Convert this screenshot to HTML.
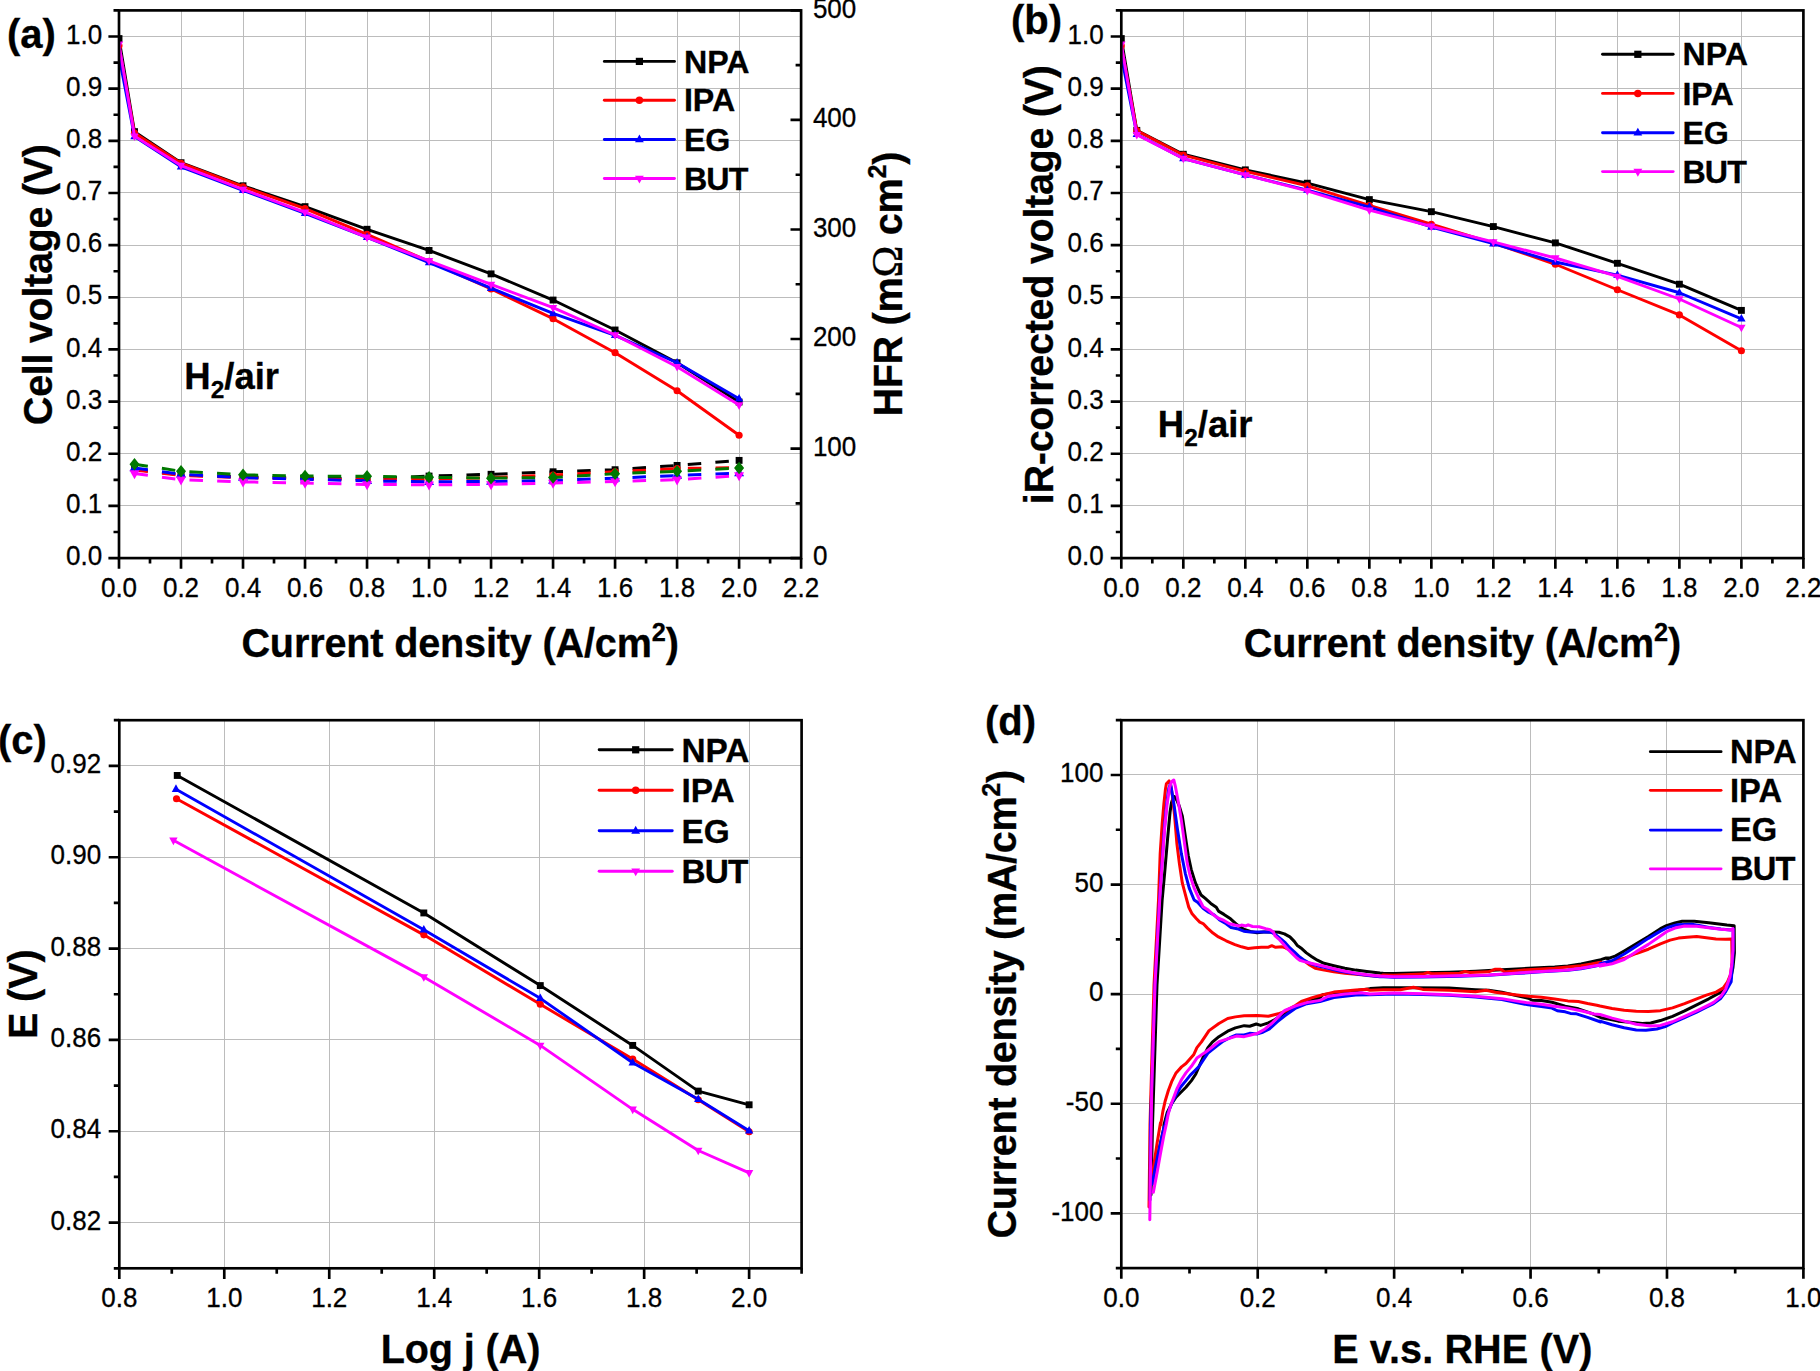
<!DOCTYPE html>
<html lang="en">
<head>
<meta charset="utf-8">
<title>Polarization curves, HFR, Tafel plots and cyclic voltammograms</title>
<style>
html,body{margin:0;padding:0;background:#fff;}
svg{display:block;}
text{font-family:"Liberation Sans", sans-serif;fill:#000;stroke:#000;stroke-width:0.3px;}
</style>
</head>
<body>
<svg width="1820" height="1371" viewBox="0 0 1820 1371">
<rect width="1820" height="1371" fill="#fff"/>
<path d="M181.5 10.4V558.1M243.5 10.4V558.1M305.5 10.4V558.1M367.5 10.4V558.1M429.5 10.4V558.1M491.5 10.4V558.1M553.5 10.4V558.1M615.5 10.4V558.1M677.5 10.4V558.1M739.5 10.4V558.1M119 505.5H801.1M119 453.5H801.1M119 401.5H801.1M119 349.5H801.1M119 297.5H801.1M119 245.5H801.1M119 192.5H801.1M119 140.5H801.1M119 88.5H801.1M119 36.5H801.1" stroke="#bcbcbc" stroke-width="1" fill="none"/>
<clipPath id="cp1"><rect x="119" y="10.4" width="682.1" height="547.7"/></clipPath><g clip-path="url(#cp1)">
<path d="M134.5 469.37L181.01 474.85L243.02 477.04L305.03 478.14L367.04 478.9L429.05 476.05L491.05 474.3L553.06 471.78L615.07 469.7L677.08 465.43L739.09 460.39" stroke="#000" stroke-width="3.0" fill="none" stroke-linejoin="round" stroke-dasharray="13.5 14.2"/>
<rect x="131.06" y="465.93" width="6.89" height="6.89" fill="#000"/><rect x="177.57" y="471.41" width="6.89" height="6.89" fill="#000"/><rect x="239.57" y="473.6" width="6.89" height="6.89" fill="#000"/><rect x="301.58" y="474.69" width="6.89" height="6.89" fill="#000"/><rect x="363.59" y="475.46" width="6.89" height="6.89" fill="#000"/><rect x="425.6" y="472.61" width="6.89" height="6.89" fill="#000"/><rect x="487.61" y="470.86" width="6.89" height="6.89" fill="#000"/><rect x="549.62" y="468.34" width="6.89" height="6.89" fill="#000"/><rect x="611.63" y="466.26" width="6.89" height="6.89" fill="#000"/><rect x="673.64" y="461.99" width="6.89" height="6.89" fill="#000"/><rect x="735.65" y="456.95" width="6.89" height="6.89" fill="#000"/>
<path d="M134.5 469.92L181.01 475.4L243.02 477.59L305.03 478.9L367.04 479.78L429.05 479.23L491.05 477.59L553.06 474.96L615.07 471.78L677.08 468.5L739.09 467.73" stroke="#ff0000" stroke-width="3.0" fill="none" stroke-linejoin="round" stroke-dasharray="13.5 14.2"/>
<circle cx="134.5" cy="469.92" r="3.57" fill="#ff0000"/><circle cx="181.01" cy="475.4" r="3.57" fill="#ff0000"/><circle cx="243.02" cy="477.59" r="3.57" fill="#ff0000"/><circle cx="305.03" cy="478.9" r="3.57" fill="#ff0000"/><circle cx="367.04" cy="479.78" r="3.57" fill="#ff0000"/><circle cx="429.05" cy="479.23" r="3.57" fill="#ff0000"/><circle cx="491.05" cy="477.59" r="3.57" fill="#ff0000"/><circle cx="553.06" cy="474.96" r="3.57" fill="#ff0000"/><circle cx="615.07" cy="471.78" r="3.57" fill="#ff0000"/><circle cx="677.08" cy="468.5" r="3.57" fill="#ff0000"/><circle cx="739.09" cy="467.73" r="3.57" fill="#ff0000"/>
<path d="M134.5 467.95L181.01 474.3L243.02 477.59L305.03 479.23L367.04 480.87L429.05 481.86L491.05 481.42L553.06 480.55L615.07 478.14L677.08 475.51L739.09 472.99" stroke="#0000ff" stroke-width="3.0" fill="none" stroke-linejoin="round" stroke-dasharray="13.5 14.2"/>
<path d="M134.5 462.2L139.5 471.2L129.5 471.2Z" fill="#0000ff"/><path d="M181.01 468.55L186.01 477.55L176.01 477.55Z" fill="#0000ff"/><path d="M243.02 471.84L248.02 480.84L238.02 480.84Z" fill="#0000ff"/><path d="M305.03 473.48L310.03 482.48L300.03 482.48Z" fill="#0000ff"/><path d="M367.04 475.12L372.04 484.12L362.04 484.12Z" fill="#0000ff"/><path d="M429.05 476.11L434.05 485.11L424.05 485.11Z" fill="#0000ff"/><path d="M491.05 475.67L496.05 484.67L486.05 484.67Z" fill="#0000ff"/><path d="M553.06 474.8L558.06 483.8L548.06 483.8Z" fill="#0000ff"/><path d="M615.07 472.39L620.07 481.39L610.07 481.39Z" fill="#0000ff"/><path d="M677.08 469.76L682.08 478.76L672.08 478.76Z" fill="#0000ff"/><path d="M739.09 467.24L744.09 476.24L734.09 476.24Z" fill="#0000ff"/>
<path d="M134.5 473.54L181.01 479.78L243.02 481.86L305.03 483.07L367.04 484.38L429.05 484.82L491.05 484.38L553.06 483.07L615.07 481.42L677.08 479.78L739.09 475.51" stroke="#ff00ff" stroke-width="3.0" fill="none" stroke-linejoin="round" stroke-dasharray="13.5 14.2"/>
<path d="M134.5 479.29L139.5 470.29L129.5 470.29Z" fill="#ff00ff"/><path d="M181.01 485.53L186.01 476.53L176.01 476.53Z" fill="#ff00ff"/><path d="M243.02 487.61L248.02 478.61L238.02 478.61Z" fill="#ff00ff"/><path d="M305.03 488.82L310.03 479.82L300.03 479.82Z" fill="#ff00ff"/><path d="M367.04 490.13L372.04 481.13L362.04 481.13Z" fill="#ff00ff"/><path d="M429.05 490.57L434.05 481.57L424.05 481.57Z" fill="#ff00ff"/><path d="M491.05 490.13L496.05 481.13L486.05 481.13Z" fill="#ff00ff"/><path d="M553.06 488.82L558.06 479.82L548.06 479.82Z" fill="#ff00ff"/><path d="M615.07 487.17L620.07 478.17L610.07 478.17Z" fill="#ff00ff"/><path d="M677.08 485.53L682.08 476.53L672.08 476.53Z" fill="#ff00ff"/><path d="M739.09 481.26L744.09 472.26L734.09 472.26Z" fill="#ff00ff"/>
<path d="M134.5 464.22L181.01 471.23L243.02 474.85L305.03 476.05L367.04 476.27L429.05 477.26L491.05 478.14L553.06 477.48L615.07 473.75L677.08 471.23L739.09 467.95" stroke="#007800" stroke-width="3.0" fill="none" stroke-linejoin="round" stroke-dasharray="13.5 14.2"/>
<path d="M134.5 457.97L139.5 464.22L134.5 470.47L129.5 464.22Z" fill="#007800"/><path d="M181.01 464.98L186.01 471.23L181.01 477.48L176.01 471.23Z" fill="#007800"/><path d="M243.02 468.6L248.02 474.85L243.02 481.1L238.02 474.85Z" fill="#007800"/><path d="M305.03 469.8L310.03 476.05L305.03 482.3L300.03 476.05Z" fill="#007800"/><path d="M367.04 470.02L372.04 476.27L367.04 482.52L362.04 476.27Z" fill="#007800"/><path d="M429.05 471.01L434.05 477.26L429.05 483.51L424.05 477.26Z" fill="#007800"/><path d="M491.05 471.89L496.05 478.14L491.05 484.39L486.05 478.14Z" fill="#007800"/><path d="M553.06 471.23L558.06 477.48L553.06 483.73L548.06 477.48Z" fill="#007800"/><path d="M615.07 467.5L620.07 473.75L615.07 480L610.07 473.75Z" fill="#007800"/><path d="M677.08 464.98L682.08 471.23L677.08 477.48L672.08 471.23Z" fill="#007800"/><path d="M739.09 461.7L744.09 467.95L739.09 474.2L734.09 467.95Z" fill="#007800"/>
<path d="M119 38.57L134.5 131.62L181.01 162.71L243.02 185.77L305.03 206.63L367.04 229.27L429.05 250.45L491.05 273.87L553.06 300.06L615.07 330L677.08 362.75L739.09 402.03" stroke="#000" stroke-width="2.9" fill="none" stroke-linejoin="round" stroke-linecap="round"/>
<rect x="115.56" y="35.12" width="6.89" height="6.89" fill="#000"/><rect x="131.06" y="128.18" width="6.89" height="6.89" fill="#000"/><rect x="177.57" y="159.27" width="6.89" height="6.89" fill="#000"/><rect x="239.57" y="182.32" width="6.89" height="6.89" fill="#000"/><rect x="301.58" y="203.19" width="6.89" height="6.89" fill="#000"/><rect x="363.59" y="225.83" width="6.89" height="6.89" fill="#000"/><rect x="425.6" y="247.01" width="6.89" height="6.89" fill="#000"/><rect x="487.61" y="270.43" width="6.89" height="6.89" fill="#000"/><rect x="549.62" y="296.61" width="6.89" height="6.89" fill="#000"/><rect x="611.63" y="326.55" width="6.89" height="6.89" fill="#000"/><rect x="673.64" y="359.31" width="6.89" height="6.89" fill="#000"/><rect x="735.65" y="398.59" width="6.89" height="6.89" fill="#000"/>
<path d="M119 45.87L134.5 132.98L181.01 163.23L243.02 186.71L305.03 208.62L367.04 234.33L429.05 261.3L491.05 288.94L553.06 318.68L615.07 352.69L677.08 390.71L739.09 435.26" stroke="#ff0000" stroke-width="2.9" fill="none" stroke-linejoin="round" stroke-linecap="round"/>
<circle cx="119" cy="45.87" r="3.57" fill="#ff0000"/><circle cx="134.5" cy="132.98" r="3.57" fill="#ff0000"/><circle cx="181.01" cy="163.23" r="3.57" fill="#ff0000"/><circle cx="243.02" cy="186.71" r="3.57" fill="#ff0000"/><circle cx="305.03" cy="208.62" r="3.57" fill="#ff0000"/><circle cx="367.04" cy="234.33" r="3.57" fill="#ff0000"/><circle cx="429.05" cy="261.3" r="3.57" fill="#ff0000"/><circle cx="491.05" cy="288.94" r="3.57" fill="#ff0000"/><circle cx="553.06" cy="318.68" r="3.57" fill="#ff0000"/><circle cx="615.07" cy="352.69" r="3.57" fill="#ff0000"/><circle cx="677.08" cy="390.71" r="3.57" fill="#ff0000"/><circle cx="739.09" cy="435.26" r="3.57" fill="#ff0000"/>
<path d="M119 56.3L134.5 136.63L181.01 166.89L243.02 190.36L305.03 213.31L367.04 237.3L429.05 262.55L491.05 288.21L553.06 313.46L615.07 335.37L677.08 362.75L739.09 398.75" stroke="#0000ff" stroke-width="2.9" fill="none" stroke-linejoin="round" stroke-linecap="round"/>
<path d="M119 51.47L123.2 59.03L114.8 59.03Z" fill="#0000ff"/><path d="M134.5 131.8L138.7 139.36L130.3 139.36Z" fill="#0000ff"/><path d="M181.01 162.06L185.21 169.62L176.81 169.62Z" fill="#0000ff"/><path d="M243.02 185.53L247.22 193.09L238.82 193.09Z" fill="#0000ff"/><path d="M305.03 208.48L309.23 216.04L300.83 216.04Z" fill="#0000ff"/><path d="M367.04 232.47L371.24 240.03L362.84 240.03Z" fill="#0000ff"/><path d="M429.05 257.72L433.25 265.28L424.85 265.28Z" fill="#0000ff"/><path d="M491.05 283.38L495.25 290.94L486.85 290.94Z" fill="#0000ff"/><path d="M553.06 308.63L557.26 316.19L548.86 316.19Z" fill="#0000ff"/><path d="M615.07 330.54L619.27 338.1L610.87 338.1Z" fill="#0000ff"/><path d="M677.08 357.92L681.28 365.48L672.88 365.48Z" fill="#0000ff"/><path d="M739.09 393.92L743.29 401.48L734.89 401.48Z" fill="#0000ff"/>
<path d="M119 44.31L134.5 136.11L181.01 165.58L243.02 189.52L305.03 212.27L367.04 237.3L429.05 260.78L491.05 284.46L553.06 307.62L615.07 335L677.08 366.77L739.09 405.06" stroke="#ff00ff" stroke-width="2.9" fill="none" stroke-linejoin="round" stroke-linecap="round"/>
<path d="M119 49.14L123.2 41.58L114.8 41.58Z" fill="#ff00ff"/><path d="M134.5 140.94L138.7 133.38L130.3 133.38Z" fill="#ff00ff"/><path d="M181.01 170.41L185.21 162.85L176.81 162.85Z" fill="#ff00ff"/><path d="M243.02 194.35L247.22 186.79L238.82 186.79Z" fill="#ff00ff"/><path d="M305.03 217.1L309.23 209.54L300.83 209.54Z" fill="#ff00ff"/><path d="M367.04 242.13L371.24 234.57L362.84 234.57Z" fill="#ff00ff"/><path d="M429.05 265.61L433.25 258.05L424.85 258.05Z" fill="#ff00ff"/><path d="M491.05 289.29L495.25 281.73L486.85 281.73Z" fill="#ff00ff"/><path d="M553.06 312.45L557.26 304.89L548.86 304.89Z" fill="#ff00ff"/><path d="M615.07 339.83L619.27 332.27L610.87 332.27Z" fill="#ff00ff"/><path d="M677.08 371.6L681.28 364.04L672.88 364.04Z" fill="#ff00ff"/><path d="M739.09 409.89L743.29 402.33L734.89 402.33Z" fill="#ff00ff"/>
</g>
<rect x="119" y="10.4" width="682.1" height="547.7" fill="none" stroke="#000" stroke-width="2.67"/>
<path d="M119 558.1h-10.6M119 505.94h-10.6M119 453.78h-10.6M119 401.61h-10.6M119 349.45h-10.6M119 297.29h-10.6M119 245.13h-10.6M119 192.97h-10.6M119 140.8h-10.6M119 88.64h-10.6M119 36.48h-10.6M119 532.02h-5.5M119 479.86h-5.5M119 427.7h-5.5M119 375.53h-5.5M119 323.37h-5.5M119 271.21h-5.5M119 219.05h-5.5M119 166.89h-5.5M119 114.72h-5.5M119 62.56h-5.5M119 10.4h-5.5" stroke="#000" stroke-width="2.67" fill="none"/>
<path d="M119 558.1v10.6M181.01 558.1v10.6M243.02 558.1v10.6M305.03 558.1v10.6M367.04 558.1v10.6M429.05 558.1v10.6M491.05 558.1v10.6M553.06 558.1v10.6M615.07 558.1v10.6M677.08 558.1v10.6M739.09 558.1v10.6M801.1 558.1v10.6M150 558.1v5.5M212.01 558.1v5.5M274.02 558.1v5.5M336.03 558.1v5.5M398.04 558.1v5.5M460.05 558.1v5.5M522.06 558.1v5.5M584.07 558.1v5.5M646.08 558.1v5.5M708.09 558.1v5.5M770.1 558.1v5.5" stroke="#000" stroke-width="2.67" fill="none"/>
<text transform="translate(102.2 565.3) scale(1 1.03)" font-size="26.0" text-anchor="end">0.0</text>
<text transform="translate(102.2 513.14) scale(1 1.03)" font-size="26.0" text-anchor="end">0.1</text>
<text transform="translate(102.2 460.98) scale(1 1.03)" font-size="26.0" text-anchor="end">0.2</text>
<text transform="translate(102.2 408.81) scale(1 1.03)" font-size="26.0" text-anchor="end">0.3</text>
<text transform="translate(102.2 356.65) scale(1 1.03)" font-size="26.0" text-anchor="end">0.4</text>
<text transform="translate(102.2 304.49) scale(1 1.03)" font-size="26.0" text-anchor="end">0.5</text>
<text transform="translate(102.2 252.33) scale(1 1.03)" font-size="26.0" text-anchor="end">0.6</text>
<text transform="translate(102.2 200.17) scale(1 1.03)" font-size="26.0" text-anchor="end">0.7</text>
<text transform="translate(102.2 148) scale(1 1.03)" font-size="26.0" text-anchor="end">0.8</text>
<text transform="translate(102.2 95.84) scale(1 1.03)" font-size="26.0" text-anchor="end">0.9</text>
<text transform="translate(102.2 43.68) scale(1 1.03)" font-size="26.0" text-anchor="end">1.0</text>
<text transform="translate(119 596.6) scale(1 1.03)" font-size="26.0" text-anchor="middle">0.0</text>
<text transform="translate(181.01 596.6) scale(1 1.03)" font-size="26.0" text-anchor="middle">0.2</text>
<text transform="translate(243.02 596.6) scale(1 1.03)" font-size="26.0" text-anchor="middle">0.4</text>
<text transform="translate(305.03 596.6) scale(1 1.03)" font-size="26.0" text-anchor="middle">0.6</text>
<text transform="translate(367.04 596.6) scale(1 1.03)" font-size="26.0" text-anchor="middle">0.8</text>
<text transform="translate(429.05 596.6) scale(1 1.03)" font-size="26.0" text-anchor="middle">1.0</text>
<text transform="translate(491.05 596.6) scale(1 1.03)" font-size="26.0" text-anchor="middle">1.2</text>
<text transform="translate(553.06 596.6) scale(1 1.03)" font-size="26.0" text-anchor="middle">1.4</text>
<text transform="translate(615.07 596.6) scale(1 1.03)" font-size="26.0" text-anchor="middle">1.6</text>
<text transform="translate(677.08 596.6) scale(1 1.03)" font-size="26.0" text-anchor="middle">1.8</text>
<text transform="translate(739.09 596.6) scale(1 1.03)" font-size="26.0" text-anchor="middle">2.0</text>
<text transform="translate(801.1 596.6) scale(1 1.03)" font-size="26.0" text-anchor="middle">2.2</text>
<text transform="translate(460.05 657.2) scale(1 1.045)" font-size="39.6" text-anchor="middle" font-weight="bold" letter-spacing="-0.16">Current density (A/cm<tspan font-size="25.34" dy="-15.84">2</tspan><tspan dy="15.84">)</tspan></text>
<text transform="translate(51.6 284.75) rotate(-90) scale(1 1.045)" font-size="39.6" text-anchor="middle" font-weight="bold" letter-spacing="-0.33">Cell voltage (V)</text>
<text transform="translate(7 47.8)" font-size="40" text-anchor="start" font-weight="bold">(a)</text>
<text transform="translate(184.3 389.1)" font-size="36.5" text-anchor="start" font-weight="bold">H<tspan font-size="24.46" dy="9.12">2</tspan><tspan dy="-9.12">/air</tspan></text>
<path d="M604.35 61.4H674.45" stroke="#000" stroke-width="2.9" stroke-linecap="round"/>
<rect x="635.79" y="57.79" width="7.22" height="7.22" fill="#000"/>
<text transform="translate(683.9 72.5)" font-size="32.2" text-anchor="start" font-weight="bold">NPA</text>
<path d="M604.35 100.3H674.45" stroke="#ff0000" stroke-width="2.9" stroke-linecap="round"/>
<circle cx="639.4" cy="100.3" r="3.74" fill="#ff0000"/>
<text transform="translate(683.9 111.4)" font-size="32.2" text-anchor="start" font-weight="bold">IPA</text>
<path d="M604.35 139.5H674.45" stroke="#0000ff" stroke-width="2.9" stroke-linecap="round"/>
<path d="M639.4 134.44L643.8 142.36L635 142.36Z" fill="#0000ff"/>
<text transform="translate(683.9 150.6)" font-size="32.2" text-anchor="start" font-weight="bold">EG</text>
<path d="M604.35 178.5H674.45" stroke="#ff00ff" stroke-width="2.9" stroke-linecap="round"/>
<path d="M639.4 183.56L643.8 175.64L635 175.64Z" fill="#ff00ff"/>
<text transform="translate(683.9 189.6)" font-size="32.2" text-anchor="start" font-weight="bold" letter-spacing="-0.8">BUT</text>
<path d="M801.1 558.1h-10.6M801.1 448.56h-10.6M801.1 339.02h-10.6M801.1 229.48h-10.6M801.1 119.94h-10.6M801.1 10.4h-10.6M801.1 503.33h-5.5M801.1 393.79h-5.5M801.1 284.25h-5.5M801.1 174.71h-5.5M801.1 65.17h-5.5" stroke="#000" stroke-width="2.67" fill="none"/>
<text transform="translate(812.9 565.3) scale(1 1.03)" font-size="26.0" text-anchor="start">0</text>
<text transform="translate(812.9 455.76) scale(1 1.03)" font-size="26.0" text-anchor="start">100</text>
<text transform="translate(812.9 346.22) scale(1 1.03)" font-size="26.0" text-anchor="start">200</text>
<text transform="translate(812.9 236.68) scale(1 1.03)" font-size="26.0" text-anchor="start">300</text>
<text transform="translate(812.9 127.14) scale(1 1.03)" font-size="26.0" text-anchor="start">400</text>
<text transform="translate(812.9 17.6) scale(1 1.03)" font-size="26.0" text-anchor="start">500</text>
<text transform="translate(902.4 284.25) rotate(-90) scale(1 1.045)" font-size="39.6" text-anchor="middle" font-weight="bold" letter-spacing="-0.3">HFR (m<tspan font-weight="normal" font-size="43" font-family="&quot;Liberation Serif&quot;, serif">&#937;</tspan> cm<tspan font-size="25.34" dy="-15.84">2</tspan><tspan dy="15.84">)</tspan></text>
<path d="M1183.5 10.4V558.1M1245.5 10.4V558.1M1307.5 10.4V558.1M1369.5 10.4V558.1M1431.5 10.4V558.1M1493.5 10.4V558.1M1555.5 10.4V558.1M1617.5 10.4V558.1M1679.5 10.4V558.1M1741.5 10.4V558.1M1121.3 505.5H1803.4M1121.3 453.5H1803.4M1121.3 401.5H1803.4M1121.3 349.5H1803.4M1121.3 297.5H1803.4M1121.3 245.5H1803.4M1121.3 192.5H1803.4M1121.3 140.5H1803.4M1121.3 88.5H1803.4M1121.3 36.5H1803.4" stroke="#bcbcbc" stroke-width="1" fill="none"/>
<clipPath id="cp2"><rect x="1121.3" y="10.4" width="682.1" height="547.7"/></clipPath><g clip-path="url(#cp2)">
<path d="M1121.3 38.57L1136.8 130.37L1183.31 154.26L1245.32 169.86L1307.33 183.21L1369.34 199.59L1431.35 211.69L1493.35 226.56L1555.36 242.89L1617.37 263.28L1679.38 284.2L1741.39 310.38" stroke="#000" stroke-width="2.9" fill="none" stroke-linejoin="round" stroke-linecap="round"/>
<rect x="1117.86" y="35.12" width="6.89" height="6.89" fill="#000"/><rect x="1133.36" y="126.93" width="6.89" height="6.89" fill="#000"/><rect x="1179.87" y="150.82" width="6.89" height="6.89" fill="#000"/><rect x="1241.87" y="166.41" width="6.89" height="6.89" fill="#000"/><rect x="1303.88" y="179.77" width="6.89" height="6.89" fill="#000"/><rect x="1365.89" y="196.15" width="6.89" height="6.89" fill="#000"/><rect x="1427.9" y="208.25" width="6.89" height="6.89" fill="#000"/><rect x="1489.91" y="223.11" width="6.89" height="6.89" fill="#000"/><rect x="1551.92" y="239.44" width="6.89" height="6.89" fill="#000"/><rect x="1613.93" y="259.84" width="6.89" height="6.89" fill="#000"/><rect x="1675.94" y="280.75" width="6.89" height="6.89" fill="#000"/><rect x="1737.95" y="306.94" width="6.89" height="6.89" fill="#000"/>
<path d="M1121.3 45.87L1136.8 130.63L1183.31 155.04L1245.32 171.42L1307.33 185.77L1369.34 205.49L1431.35 224.26L1493.35 243.04L1555.36 264.27L1617.37 289.73L1679.38 314.92L1741.39 350.76" stroke="#ff0000" stroke-width="2.9" fill="none" stroke-linejoin="round" stroke-linecap="round"/>
<circle cx="1121.3" cy="45.87" r="3.57" fill="#ff0000"/><circle cx="1136.8" cy="130.63" r="3.57" fill="#ff0000"/><circle cx="1183.31" cy="155.04" r="3.57" fill="#ff0000"/><circle cx="1245.32" cy="171.42" r="3.57" fill="#ff0000"/><circle cx="1307.33" cy="185.77" r="3.57" fill="#ff0000"/><circle cx="1369.34" cy="205.49" r="3.57" fill="#ff0000"/><circle cx="1431.35" cy="224.26" r="3.57" fill="#ff0000"/><circle cx="1493.35" cy="243.04" r="3.57" fill="#ff0000"/><circle cx="1555.36" cy="264.27" r="3.57" fill="#ff0000"/><circle cx="1617.37" cy="289.73" r="3.57" fill="#ff0000"/><circle cx="1679.38" cy="314.92" r="3.57" fill="#ff0000"/><circle cx="1741.39" cy="350.76" r="3.57" fill="#ff0000"/>
<path d="M1121.3 56.3L1136.8 134.18L1183.31 158.54L1245.32 174.92L1307.33 190.05L1369.34 207.05L1431.35 226.98L1493.35 243.67L1555.36 262.03L1617.37 275.12L1679.38 292.75L1741.39 318.89" stroke="#0000ff" stroke-width="2.9" fill="none" stroke-linejoin="round" stroke-linecap="round"/>
<path d="M1121.3 51.47L1125.5 59.03L1117.1 59.03Z" fill="#0000ff"/><path d="M1136.8 129.35L1141 136.91L1132.6 136.91Z" fill="#0000ff"/><path d="M1183.31 153.71L1187.51 161.27L1179.11 161.27Z" fill="#0000ff"/><path d="M1245.32 170.09L1249.52 177.65L1241.12 177.65Z" fill="#0000ff"/><path d="M1307.33 185.22L1311.53 192.78L1303.13 192.78Z" fill="#0000ff"/><path d="M1369.34 202.22L1373.54 209.78L1365.14 209.78Z" fill="#0000ff"/><path d="M1431.35 222.15L1435.55 229.71L1427.15 229.71Z" fill="#0000ff"/><path d="M1493.35 238.84L1497.55 246.4L1489.15 246.4Z" fill="#0000ff"/><path d="M1555.36 257.2L1559.56 264.76L1551.16 264.76Z" fill="#0000ff"/><path d="M1617.37 270.29L1621.57 277.85L1613.17 277.85Z" fill="#0000ff"/><path d="M1679.38 287.92L1683.58 295.48L1675.18 295.48Z" fill="#0000ff"/><path d="M1741.39 314.06L1745.59 321.62L1737.19 321.62Z" fill="#0000ff"/>
<path d="M1121.3 44.31L1136.8 134.65L1183.31 158.54L1245.32 174.92L1307.33 190.78L1369.34 210.18L1431.35 226.35L1493.35 241.89L1555.36 258.01L1617.37 276.37L1679.38 299.01L1741.39 327.54" stroke="#ff00ff" stroke-width="2.9" fill="none" stroke-linejoin="round" stroke-linecap="round"/>
<path d="M1121.3 49.14L1125.5 41.58L1117.1 41.58Z" fill="#ff00ff"/><path d="M1136.8 139.48L1141 131.92L1132.6 131.92Z" fill="#ff00ff"/><path d="M1183.31 163.37L1187.51 155.81L1179.11 155.81Z" fill="#ff00ff"/><path d="M1245.32 179.75L1249.52 172.19L1241.12 172.19Z" fill="#ff00ff"/><path d="M1307.33 195.61L1311.53 188.05L1303.13 188.05Z" fill="#ff00ff"/><path d="M1369.34 215.01L1373.54 207.45L1365.14 207.45Z" fill="#ff00ff"/><path d="M1431.35 231.18L1435.55 223.62L1427.15 223.62Z" fill="#ff00ff"/><path d="M1493.35 246.72L1497.55 239.16L1489.15 239.16Z" fill="#ff00ff"/><path d="M1555.36 262.84L1559.56 255.28L1551.16 255.28Z" fill="#ff00ff"/><path d="M1617.37 281.2L1621.57 273.64L1613.17 273.64Z" fill="#ff00ff"/><path d="M1679.38 303.84L1683.58 296.28L1675.18 296.28Z" fill="#ff00ff"/><path d="M1741.39 332.37L1745.59 324.81L1737.19 324.81Z" fill="#ff00ff"/>
</g>
<rect x="1121.3" y="10.4" width="682.1" height="547.7" fill="none" stroke="#000" stroke-width="2.67"/>
<path d="M1121.3 558.1h-10.6M1121.3 505.94h-10.6M1121.3 453.78h-10.6M1121.3 401.61h-10.6M1121.3 349.45h-10.6M1121.3 297.29h-10.6M1121.3 245.13h-10.6M1121.3 192.97h-10.6M1121.3 140.8h-10.6M1121.3 88.64h-10.6M1121.3 36.48h-10.6M1121.3 532.02h-5.5M1121.3 479.86h-5.5M1121.3 427.7h-5.5M1121.3 375.53h-5.5M1121.3 323.37h-5.5M1121.3 271.21h-5.5M1121.3 219.05h-5.5M1121.3 166.89h-5.5M1121.3 114.72h-5.5M1121.3 62.56h-5.5M1121.3 10.4h-5.5" stroke="#000" stroke-width="2.67" fill="none"/>
<path d="M1121.3 558.1v10.6M1183.31 558.1v10.6M1245.32 558.1v10.6M1307.33 558.1v10.6M1369.34 558.1v10.6M1431.35 558.1v10.6M1493.35 558.1v10.6M1555.36 558.1v10.6M1617.37 558.1v10.6M1679.38 558.1v10.6M1741.39 558.1v10.6M1803.4 558.1v10.6M1152.3 558.1v5.5M1214.31 558.1v5.5M1276.32 558.1v5.5M1338.33 558.1v5.5M1400.34 558.1v5.5M1462.35 558.1v5.5M1524.36 558.1v5.5M1586.37 558.1v5.5M1648.38 558.1v5.5M1710.39 558.1v5.5M1772.4 558.1v5.5" stroke="#000" stroke-width="2.67" fill="none"/>
<text transform="translate(1103.7 565.3) scale(1 1.03)" font-size="26.0" text-anchor="end">0.0</text>
<text transform="translate(1103.7 513.14) scale(1 1.03)" font-size="26.0" text-anchor="end">0.1</text>
<text transform="translate(1103.7 460.98) scale(1 1.03)" font-size="26.0" text-anchor="end">0.2</text>
<text transform="translate(1103.7 408.81) scale(1 1.03)" font-size="26.0" text-anchor="end">0.3</text>
<text transform="translate(1103.7 356.65) scale(1 1.03)" font-size="26.0" text-anchor="end">0.4</text>
<text transform="translate(1103.7 304.49) scale(1 1.03)" font-size="26.0" text-anchor="end">0.5</text>
<text transform="translate(1103.7 252.33) scale(1 1.03)" font-size="26.0" text-anchor="end">0.6</text>
<text transform="translate(1103.7 200.17) scale(1 1.03)" font-size="26.0" text-anchor="end">0.7</text>
<text transform="translate(1103.7 148) scale(1 1.03)" font-size="26.0" text-anchor="end">0.8</text>
<text transform="translate(1103.7 95.84) scale(1 1.03)" font-size="26.0" text-anchor="end">0.9</text>
<text transform="translate(1103.7 43.68) scale(1 1.03)" font-size="26.0" text-anchor="end">1.0</text>
<text transform="translate(1121.3 596.6) scale(1 1.03)" font-size="26.0" text-anchor="middle">0.0</text>
<text transform="translate(1183.31 596.6) scale(1 1.03)" font-size="26.0" text-anchor="middle">0.2</text>
<text transform="translate(1245.32 596.6) scale(1 1.03)" font-size="26.0" text-anchor="middle">0.4</text>
<text transform="translate(1307.33 596.6) scale(1 1.03)" font-size="26.0" text-anchor="middle">0.6</text>
<text transform="translate(1369.34 596.6) scale(1 1.03)" font-size="26.0" text-anchor="middle">0.8</text>
<text transform="translate(1431.35 596.6) scale(1 1.03)" font-size="26.0" text-anchor="middle">1.0</text>
<text transform="translate(1493.35 596.6) scale(1 1.03)" font-size="26.0" text-anchor="middle">1.2</text>
<text transform="translate(1555.36 596.6) scale(1 1.03)" font-size="26.0" text-anchor="middle">1.4</text>
<text transform="translate(1617.37 596.6) scale(1 1.03)" font-size="26.0" text-anchor="middle">1.6</text>
<text transform="translate(1679.38 596.6) scale(1 1.03)" font-size="26.0" text-anchor="middle">1.8</text>
<text transform="translate(1741.39 596.6) scale(1 1.03)" font-size="26.0" text-anchor="middle">2.0</text>
<text transform="translate(1803.4 596.6) scale(1 1.03)" font-size="26.0" text-anchor="middle">2.2</text>
<text transform="translate(1462.35 657.2) scale(1 1.045)" font-size="39.6" text-anchor="middle" font-weight="bold" letter-spacing="-0.16">Current density (A/cm<tspan font-size="25.34" dy="-15.84">2</tspan><tspan dy="15.84">)</tspan></text>
<text transform="translate(1053.3 284.75) rotate(-90) scale(1 1.045)" font-size="39.6" text-anchor="middle" font-weight="bold" letter-spacing="-0.33">iR-corrected voltage (V)</text>
<text transform="translate(1011 34)" font-size="40" text-anchor="start" font-weight="bold">(b)</text>
<text transform="translate(1157.8 437.3)" font-size="36.5" text-anchor="start" font-weight="bold">H<tspan font-size="24.46" dy="9.12">2</tspan><tspan dy="-9.12">/air</tspan></text>
<path d="M1602.55 54.3H1673.15" stroke="#000" stroke-width="2.9" stroke-linecap="round"/>
<rect x="1634.24" y="50.69" width="7.22" height="7.22" fill="#000"/>
<text transform="translate(1682.4 65.4)" font-size="32.2" text-anchor="start" font-weight="bold">NPA</text>
<path d="M1602.55 93.4H1673.15" stroke="#ff0000" stroke-width="2.9" stroke-linecap="round"/>
<circle cx="1637.85" cy="93.4" r="3.74" fill="#ff0000"/>
<text transform="translate(1682.4 104.5)" font-size="32.2" text-anchor="start" font-weight="bold">IPA</text>
<path d="M1602.55 132.7H1673.15" stroke="#0000ff" stroke-width="2.9" stroke-linecap="round"/>
<path d="M1637.85 127.64L1642.25 135.56L1633.45 135.56Z" fill="#0000ff"/>
<text transform="translate(1682.4 143.8)" font-size="32.2" text-anchor="start" font-weight="bold">EG</text>
<path d="M1602.55 171.6H1673.15" stroke="#ff00ff" stroke-width="2.9" stroke-linecap="round"/>
<path d="M1637.85 176.66L1642.25 168.74L1633.45 168.74Z" fill="#ff00ff"/>
<text transform="translate(1682.4 182.7)" font-size="32.2" text-anchor="start" font-weight="bold" letter-spacing="-0.8">BUT</text>
<path d="M224.5 720.2V1268.3M329.5 720.2V1268.3M434.5 720.2V1268.3M539.5 720.2V1268.3M644.5 720.2V1268.3M749.5 720.2V1268.3M119.3 1222.5H801.6M119.3 1131.5H801.6M119.3 1039.5H801.6M119.3 948.5H801.6M119.3 857.5H801.6M119.3 765.5H801.6" stroke="#bcbcbc" stroke-width="1" fill="none"/>
<clipPath id="cp3"><rect x="119.3" y="720.2" width="682.3" height="548.1"/></clipPath><g clip-path="url(#cp3)">
<path d="M177.24 775.47L423.82 912.95L540.28 985.57L632.7 1045.41L698.26 1091.08L749.12 1104.78" stroke="#000" stroke-width="2.9" fill="none" stroke-linejoin="round" stroke-linecap="round"/>
<rect x="173.8" y="772.02" width="6.89" height="6.89" fill="#000"/><rect x="420.37" y="909.5" width="6.89" height="6.89" fill="#000"/><rect x="536.84" y="982.13" width="6.89" height="6.89" fill="#000"/><rect x="629.26" y="1041.96" width="6.89" height="6.89" fill="#000"/><rect x="694.81" y="1087.64" width="6.89" height="6.89" fill="#000"/><rect x="745.67" y="1101.34" width="6.89" height="6.89" fill="#000"/>
<path d="M176.51 798.76L423.82 934.87L540.28 1004.3L632.7 1059.11L698.26 1099.76L749.12 1131.73" stroke="#ff0000" stroke-width="2.9" fill="none" stroke-linejoin="round" stroke-linecap="round"/>
<circle cx="176.51" cy="798.76" r="3.57" fill="#ff0000"/><circle cx="423.82" cy="934.87" r="3.57" fill="#ff0000"/><circle cx="540.28" cy="1004.3" r="3.57" fill="#ff0000"/><circle cx="632.7" cy="1059.11" r="3.57" fill="#ff0000"/><circle cx="698.26" cy="1099.76" r="3.57" fill="#ff0000"/><circle cx="749.12" cy="1131.73" r="3.57" fill="#ff0000"/>
<path d="M175.98 789.17L423.82 929.85L540.28 998.36L632.7 1062.76L698.26 1099.3L749.12 1130.82" stroke="#0000ff" stroke-width="2.9" fill="none" stroke-linejoin="round" stroke-linecap="round"/>
<path d="M175.98 784.34L180.18 791.9L171.78 791.9Z" fill="#0000ff"/><path d="M423.82 925.02L428.02 932.58L419.62 932.58Z" fill="#0000ff"/><path d="M540.28 993.53L544.48 1001.09L536.08 1001.09Z" fill="#0000ff"/><path d="M632.7 1057.93L636.9 1065.49L628.5 1065.49Z" fill="#0000ff"/><path d="M698.26 1094.47L702.46 1102.03L694.06 1102.03Z" fill="#0000ff"/><path d="M749.12 1125.99L753.32 1133.55L744.92 1133.55Z" fill="#0000ff"/>
<path d="M173.41 840.33L423.82 976.89L540.28 1045.41L632.7 1109.35L698.26 1150.46L749.12 1172.84" stroke="#ff00ff" stroke-width="2.9" fill="none" stroke-linejoin="round" stroke-linecap="round"/>
<path d="M173.41 845.16L177.61 837.6L169.21 837.6Z" fill="#ff00ff"/><path d="M423.82 981.72L428.02 974.16L419.62 974.16Z" fill="#ff00ff"/><path d="M540.28 1050.24L544.48 1042.68L536.08 1042.68Z" fill="#ff00ff"/><path d="M632.7 1114.18L636.9 1106.62L628.5 1106.62Z" fill="#ff00ff"/><path d="M698.26 1155.29L702.46 1147.73L694.06 1147.73Z" fill="#ff00ff"/><path d="M749.12 1177.67L753.32 1170.11L744.92 1170.11Z" fill="#ff00ff"/>
</g>
<rect x="119.3" y="720.2" width="682.3" height="548.1" fill="none" stroke="#000" stroke-width="2.67"/>
<path d="M119.3 1222.63h-10.6M119.3 1131.28h-10.6M119.3 1039.93h-10.6M119.3 948.58h-10.6M119.3 857.23h-10.6M119.3 765.88h-10.6M119.3 1268.3h-5.5M119.3 1176.95h-5.5M119.3 1085.6h-5.5M119.3 994.25h-5.5M119.3 902.9h-5.5M119.3 811.55h-5.5M119.3 720.2h-5.5" stroke="#000" stroke-width="2.67" fill="none"/>
<path d="M119.3 1268.3v10.6M224.27 1268.3v10.6M329.24 1268.3v10.6M434.21 1268.3v10.6M539.18 1268.3v10.6M644.15 1268.3v10.6M749.12 1268.3v10.6M171.78 1268.3v5.5M276.75 1268.3v5.5M381.72 1268.3v5.5M486.69 1268.3v5.5M591.66 1268.3v5.5M696.63 1268.3v5.5M801.6 1268.3v5.5" stroke="#000" stroke-width="2.67" fill="none"/>
<text transform="translate(101.2 1229.83) scale(1 1.03)" font-size="26.0" text-anchor="end">0.82</text>
<text transform="translate(101.2 1138.48) scale(1 1.03)" font-size="26.0" text-anchor="end">0.84</text>
<text transform="translate(101.2 1047.13) scale(1 1.03)" font-size="26.0" text-anchor="end">0.86</text>
<text transform="translate(101.2 955.78) scale(1 1.03)" font-size="26.0" text-anchor="end">0.88</text>
<text transform="translate(101.2 864.43) scale(1 1.03)" font-size="26.0" text-anchor="end">0.90</text>
<text transform="translate(101.2 773.08) scale(1 1.03)" font-size="26.0" text-anchor="end">0.92</text>
<text transform="translate(119.3 1306.5) scale(1 1.03)" font-size="26.0" text-anchor="middle">0.8</text>
<text transform="translate(224.27 1306.5) scale(1 1.03)" font-size="26.0" text-anchor="middle">1.0</text>
<text transform="translate(329.24 1306.5) scale(1 1.03)" font-size="26.0" text-anchor="middle">1.2</text>
<text transform="translate(434.21 1306.5) scale(1 1.03)" font-size="26.0" text-anchor="middle">1.4</text>
<text transform="translate(539.18 1306.5) scale(1 1.03)" font-size="26.0" text-anchor="middle">1.6</text>
<text transform="translate(644.15 1306.5) scale(1 1.03)" font-size="26.0" text-anchor="middle">1.8</text>
<text transform="translate(749.12 1306.5) scale(1 1.03)" font-size="26.0" text-anchor="middle">2.0</text>
<text transform="translate(460.45 1362.6) scale(1 1.045)" font-size="39.6" text-anchor="middle" font-weight="bold" letter-spacing="-0.1">Log j (A)</text>
<text transform="translate(37 994.25) rotate(-90) scale(1 1.045)" font-size="39.6" text-anchor="middle" font-weight="bold" letter-spacing="-0.1">E (V)</text>
<text transform="translate(-2 754.2)" font-size="40" text-anchor="start" font-weight="bold">(c)</text>
<path d="M599.15 749.8H672.25" stroke="#000" stroke-width="2.9" stroke-linecap="round"/>
<rect x="632.09" y="746.19" width="7.22" height="7.22" fill="#000"/>
<text transform="translate(681.4 761.8)" font-size="33.4" text-anchor="start" font-weight="bold">NPA</text>
<path d="M599.15 790.3H672.25" stroke="#ff0000" stroke-width="2.9" stroke-linecap="round"/>
<circle cx="635.7" cy="790.3" r="3.74" fill="#ff0000"/>
<text transform="translate(681.4 802.3)" font-size="33.4" text-anchor="start" font-weight="bold">IPA</text>
<path d="M599.15 830.8H672.25" stroke="#0000ff" stroke-width="2.9" stroke-linecap="round"/>
<path d="M635.7 825.74L640.1 833.66L631.3 833.66Z" fill="#0000ff"/>
<text transform="translate(681.4 842.8)" font-size="33.4" text-anchor="start" font-weight="bold">EG</text>
<path d="M599.15 871.3H672.25" stroke="#ff00ff" stroke-width="2.9" stroke-linecap="round"/>
<path d="M635.7 876.36L640.1 868.44L631.3 868.44Z" fill="#ff00ff"/>
<text transform="translate(681.4 883.3)" font-size="33.4" text-anchor="start" font-weight="bold" letter-spacing="-0.8">BUT</text>
<path d="M1257.5 720.2V1268.1M1394.5 720.2V1268.1M1530.5 720.2V1268.1M1666.5 720.2V1268.1M1121.3 1213.5H1803.4M1121.3 1103.5H1803.4M1121.3 994.5H1803.4M1121.3 884.5H1803.4M1121.3 774.5H1803.4" stroke="#bcbcbc" stroke-width="1" fill="none"/>
<path d="M1151 1195L1152.5 1125L1157 985L1162.15 899.99L1164.62 873.31L1167.57 838.85L1170.03 812.26L1171.51 802.42L1172.99 798.48L1174.46 796.51L1176.92 800.45L1179.39 806.35L1182.34 816.2L1185.29 835.89L1188.25 855.59L1191.2 869.37L1195.14 882.17L1199.08 891.03L1201.05 894.97L1205.27 898.46L1210.77 903.41L1216.26 907.25L1218.46 911.1L1223.96 914.4L1230.55 918.79L1237.14 924.84L1243.74 929.23L1250.33 931.43L1256.92 932.75L1263.52 931.98L1271.21 931.98L1278.9 932.31L1284.4 933.85L1289.89 936.92L1294.29 941.32L1297.03 945.16L1300.88 947.91L1306.37 952.86L1311.87 956.7L1317.36 960.22L1323.96 963.3L1333.85 965.71L1344.84 968.24L1355.82 970.11L1366.81 971.54L1380 972.97L1383.19 973.19L1393.74 973.59L1422.75 972.79L1449.12 972.27L1475.5 971.21L1501.87 969.63L1528.25 968.31L1554.62 966.99L1567.81 965.94L1581 963.96L1591.55 961.72L1600.78 959.61L1606.05 958.02L1610.01 958.02L1607.25 958.9L1615.71 955.88L1624.18 951.04L1636.26 943.79L1648.35 936.54L1660.44 928.68L1666.48 925.66L1674.94 922.88L1682.2 921.19L1694.28 921.19L1708.79 922.64L1720.88 924.21L1726.92 925.05L1734.17 925.66L1734.41 952.86L1732.96 967.36L1730.55 979.45L1725.71 987.91L1720.88 992.14L1708.79 998.79L1696.7 1004.83L1684.61 1010.88L1672.53 1016.31L1660.44 1020.55L1650.77 1022.96L1642.31 1023.57L1630.22 1022.36L1618.13 1021.15L1609.67 1019.34L1602.1 1018.03L1591.55 1013.41L1578.36 1008.8L1565.17 1006.16L1551.99 1002.2L1541.44 1000.49L1532.2 1000.22L1528.25 998.25L1515.06 995.21L1501.87 992.31L1488.69 990.33L1475.5 989.67L1449.12 988.09L1413.52 987.7L1383.19 987.7L1370 988.62L1355.82 990.77L1339.34 992.42L1322.86 994.62L1320 997.64L1306.81 1002.03L1295.82 1006.43L1284.84 1013.02L1273.85 1020.16L1268.35 1022.91L1260.66 1025.44L1256.26 1024.01L1249.67 1026.21L1244.18 1025.66L1235.38 1027.86L1227.69 1031.15L1218.9 1036.65L1212.31 1042.14L1207.91 1047.64L1203.52 1056.43L1199.12 1066.32L1195.82 1074.01L1191.43 1080.6L1185.93 1087.2L1180.44 1092.69L1176.04 1097.09L1171.65 1103.68L1167.25 1112.47L1163.96 1125L1163.76 1128.29L1159.39 1147.99L1155.01 1168.77L1152.28 1184.09" stroke="#000" stroke-width="3.0" fill="none" stroke-linejoin="round" stroke-linecap="round"/>
<path d="M1149 1207L1150 1125L1154 985L1158.51 899.99L1160.19 853.62L1162.15 824.08L1163.83 804.39L1165.4 789.62L1166.39 783.71L1169.05 780.95L1171.02 786.66L1172.49 796.51L1174.46 814.23L1176.92 843.77L1179.39 863.46L1182.34 883.16L1186.77 899.99L1188.79 907.25L1192.09 913.85L1196.48 918.79L1199.78 922.09L1203.08 923.52L1207.47 928.13L1212.97 933.08L1218.46 936.92L1226.15 940.77L1234.95 944.62L1241.54 946.81L1248.13 948.46L1254.73 947.69L1261.32 947.36L1267.91 947.36L1271.76 945.71L1275.6 947.36L1282.2 946.81L1285.49 947.91L1289.89 950.11L1294.29 953.41L1300.88 958.35L1309.67 964.95L1315.16 968.24L1322.86 969.89L1333.85 971.87L1344.84 973.19L1355.82 974.29L1366.81 975.38L1380 976.26L1383.19 974.9L1393.74 975.17L1422.75 974.11L1428.02 972.53L1431.98 973.85L1459.67 973.19L1464.95 971.48L1470.22 972.53L1488.69 971.87L1495.28 969.23L1500.56 969.23L1504.51 971.87L1528.25 969.63L1554.62 968.31L1581 965.67L1591.55 963.96L1600.78 962.24L1600 963.73L1612.09 961.56L1624.18 958.29L1636.26 953.46L1648.35 949.23L1660.44 943.79L1670.11 940.16L1678.57 938.11L1687.03 937.14L1696.7 936.54L1706.37 937.75L1716.04 938.95L1725.71 939.32L1731.75 938.95L1732.12 962.53L1730.55 974.61L1727.52 981.87L1723.29 987.91L1716.04 992.14L1706.37 995.16L1696.7 998.79L1684.61 1003.62L1672.53 1007.85L1660.44 1010.63L1648.35 1011.48L1636.26 1011.24L1624.18 1010.27L1612.09 1008.46L1600 1006.04L1596.82 1005.24L1587.59 1003.52L1578.36 1001.54L1567.81 1000.88L1554.62 998.91L1541.44 997.32L1528.25 996.27L1515.06 994.69L1495.28 992.31L1486.05 990.33L1475.5 991.65L1449.12 990.33L1422.75 989.41L1413.52 987.3L1400.33 989.67L1383.19 989.67L1370 990.33L1366.81 989.23L1355.82 990.11L1344.84 990.99L1333.85 992.09L1320 995.44L1312.31 997.64L1301.32 1001.48L1295.82 1005.33L1284.84 1011.37L1278.24 1013.79L1268.35 1016.32L1257.36 1015.55L1244.18 1015.77L1235.38 1016.87L1227.69 1018.52L1218.9 1023.46L1209.01 1030.6L1205.71 1035.55L1201.32 1042.14L1196.92 1047.64L1193.63 1054.78L1185.93 1063.57L1181.54 1066.87L1176.04 1072.91L1171.65 1081.7L1168.35 1090.49L1165.05 1101.48L1162.86 1111.37L1160.66 1125L1160.48 1122.82L1157.2 1142.52L1153.92 1164.4L1151.73 1178.62" stroke="#ff0000" stroke-width="3.0" fill="none" stroke-linejoin="round" stroke-linecap="round"/>
<path d="M1150 1200L1150.5 1125L1155 985L1159.5 899.99L1161.96 863.46L1164.32 829L1166.59 804.39L1168.75 788.63L1170.52 783.71L1171.51 789.62L1173.97 804.39L1177.42 829L1181.35 853.62L1185.29 873.31L1189.23 888.08L1194.16 899.99L1197.58 902.31L1203.08 908.35L1208.57 912.2L1214.07 914.95L1219.56 919.89L1226.15 923.74L1231.1 927.58L1237.14 928.68L1243.74 931.21L1250.33 931.98L1256.92 931.98L1264.62 931.98L1271.21 932.31L1275.6 934.73L1281.1 939.12L1285.49 942.97L1289.89 947.91L1294.29 951.76L1298.68 956.15L1303.08 959.45L1309.67 963.3L1317.36 965.71L1328.35 968.24L1339.34 970.99L1355.82 973.74L1366.81 975.16L1380 976.7L1383.19 976.75L1393.74 977.15L1422.75 976.88L1459.67 976.22L1488.69 975.3L1515.06 973.59L1541.44 971.87L1567.81 970.29L1581 968.71L1594.19 966.33L1604.74 964.09L1600 963.73L1612.09 960.71L1624.18 954.06L1636.26 946.21L1648.35 938.35L1660.44 931.1L1667.69 927.47L1677.36 924.81L1684.61 924.45L1691.87 924.21L1700.33 925.66L1708.79 927.47L1720.88 929.04L1730.55 929.89L1733.2 928.92L1733.2 950.44L1732.36 964.94L1731.15 981.87L1725.71 991.54L1720.88 998.18L1713.62 1003.62L1706.37 1007.25L1696.7 1012.08L1684.61 1017.52L1672.53 1022.96L1665.27 1026.59L1656.81 1029.01L1645.93 1030.22L1636.26 1029.97L1624.18 1027.8L1612.09 1024.78L1600 1021.15L1600.78 1021.98L1587.59 1017.37L1575.72 1013.68L1570.45 1013.41L1565.17 1011.83L1557.26 1010.77L1551.99 1008.14L1541.44 1006.55L1528.25 1004.84L1515.06 1002.2L1501.87 999.56L1475.5 996.93L1449.12 995.21L1422.75 994.42L1393.74 993.89L1370 994.69L1355.82 994.95L1333.85 997.58L1320 1001.48L1306.81 1003.68L1295.82 1008.08L1284.84 1015.77L1277.14 1021.81L1269.45 1028.96L1262.86 1032.25L1257.36 1033.9L1249.67 1033.35L1244.18 1035L1236.48 1035L1229.89 1037.75L1223.3 1041.04L1216.7 1045.99L1207.91 1053.13L1203.52 1059.73L1199.12 1066.32L1194.73 1070.71L1190.33 1075.11L1185.93 1080.6L1180.44 1087.2L1176.04 1094.89L1171.65 1103.68L1167.8 1113.57L1165.05 1125L1163.76 1128.29L1159.39 1147.99L1155.01 1168.77L1152.28 1184.09" stroke="#0000ff" stroke-width="3.0" fill="none" stroke-linejoin="round" stroke-linecap="round"/>
<path d="M1149.8 1219.7L1151.7 1090L1155 985L1159.69 899.99L1162.15 863.46L1164.62 829L1167.08 804.39L1169.54 787.65L1171.51 781.74L1173.77 779.97L1175.45 786.66L1178.4 802.42L1181.35 820.14L1184.31 841.8L1187.26 863.46L1190.22 876.26L1194.16 888.08L1199.08 898.91L1203.08 906.7L1207.47 909.45L1212.97 914.4L1218.46 918.24L1223.96 920.44L1229.45 923.74L1234.95 925.05L1239.34 925.93L1241.54 925.05L1245.93 925.93L1248.13 924.84L1252.53 926.48L1259.12 926.7L1265.71 928.68L1270.11 929.78L1273.41 931.98L1275.05 935.82L1278.9 939.12L1283.3 944.07L1287.69 949.01L1292.09 953.41L1296.48 957.8L1299.78 960.22L1304.18 961.65L1311.87 963.52L1322.86 966.04L1333.85 968.79L1344.84 971.21L1355.82 973.19L1366.81 974.84L1380 976.26L1383.19 976.36L1393.74 976.75L1422.75 976.49L1459.67 975.83L1488.69 974.9L1515.06 973.19L1541.44 971.48L1567.81 969.89L1581 968.31L1594.19 965.94L1604.74 963.96L1600 966.15L1612.09 963.73L1624.18 959.5L1636.26 951.65L1648.35 944.39L1660.44 935.93L1667.69 931.1L1674.94 928.08L1684.61 926.02L1696.7 926.26L1708.79 927.71L1720.88 929.28L1730.55 929.89L1732.96 928.68L1732.96 950.44L1731.75 964.94L1729.94 977.03L1725.71 989.12L1720.88 996.37L1713.62 1002.41L1706.37 1006.04L1696.7 1010.88L1684.61 1016.31L1672.53 1021.75L1660.44 1025.38L1650.77 1025.98L1636.26 1024.17L1624.18 1021.15L1612.09 1018.13L1600 1014.5L1594.19 1014.07L1581 1010.77L1567.81 1008.14L1554.62 1006.16L1541.44 1004.18L1528.25 1002.86L1515.06 1000.88L1501.87 998.64L1475.5 996.27L1449.12 994.69L1422.75 993.63L1393.74 992.97L1370 993.89L1361.32 992.75L1344.84 994.07L1328.35 996.26L1320 1000.38L1306.81 1002.58L1295.82 1005.88L1284.84 1010.27L1278.24 1016.87L1271.65 1023.46L1265.05 1028.96L1257.36 1033.35L1250.77 1035L1244.18 1036.65L1236.48 1036.1L1227.69 1038.85L1218.9 1041.59L1213.41 1045.99L1205.71 1052.03L1196.92 1058.08L1191.43 1066.32L1185.93 1072.91L1181.54 1079.51L1177.14 1088.3L1173.85 1097.09L1170.55 1105.88L1168.35 1113.57L1166.15 1125L1163.76 1135.95L1160.48 1153.46L1157.2 1172.06L1153.37 1192.3" stroke="#ff00ff" stroke-width="3.0" fill="none" stroke-linejoin="round" stroke-linecap="round"/>
<rect x="1121.3" y="720.2" width="682.1" height="547.9" fill="none" stroke="#000" stroke-width="2.67"/>
<path d="M1121.3 1213.31h-10.6M1121.3 1103.73h-10.6M1121.3 994.15h-10.6M1121.3 884.57h-10.6M1121.3 774.99h-10.6M1121.3 1268.1h-5.5M1121.3 1158.52h-5.5M1121.3 1048.94h-5.5M1121.3 939.36h-5.5M1121.3 829.78h-5.5M1121.3 720.2h-5.5" stroke="#000" stroke-width="2.67" fill="none"/>
<path d="M1121.3 1268.1v10.6M1257.72 1268.1v10.6M1394.14 1268.1v10.6M1530.56 1268.1v10.6M1666.98 1268.1v10.6M1803.4 1268.1v10.6M1189.51 1268.1v5.5M1325.93 1268.1v5.5M1462.35 1268.1v5.5M1598.77 1268.1v5.5M1735.19 1268.1v5.5" stroke="#000" stroke-width="2.67" fill="none"/>
<text transform="translate(1103.4 1220.51) scale(1 1.03)" font-size="26.0" text-anchor="end">-100</text>
<text transform="translate(1103.4 1110.93) scale(1 1.03)" font-size="26.0" text-anchor="end">-50</text>
<text transform="translate(1103.4 1001.35) scale(1 1.03)" font-size="26.0" text-anchor="end">0</text>
<text transform="translate(1103.4 891.77) scale(1 1.03)" font-size="26.0" text-anchor="end">50</text>
<text transform="translate(1103.4 782.19) scale(1 1.03)" font-size="26.0" text-anchor="end">100</text>
<text transform="translate(1121.3 1306.5) scale(1 1.03)" font-size="26.0" text-anchor="middle">0.0</text>
<text transform="translate(1257.72 1306.5) scale(1 1.03)" font-size="26.0" text-anchor="middle">0.2</text>
<text transform="translate(1394.14 1306.5) scale(1 1.03)" font-size="26.0" text-anchor="middle">0.4</text>
<text transform="translate(1530.56 1306.5) scale(1 1.03)" font-size="26.0" text-anchor="middle">0.6</text>
<text transform="translate(1666.98 1306.5) scale(1 1.03)" font-size="26.0" text-anchor="middle">0.8</text>
<text transform="translate(1803.4 1306.5) scale(1 1.03)" font-size="26.0" text-anchor="middle">1.0</text>
<text transform="translate(1462.35 1362.7) scale(1 1.045)" font-size="39.6" text-anchor="middle" font-weight="bold" letter-spacing="0.1">E v.s. RHE (V)</text>
<text transform="translate(1016.4 1004.25) rotate(-90) scale(1 1.045)" font-size="39.6" text-anchor="middle" font-weight="bold" letter-spacing="-0.32">Current density (mA/cm<tspan font-size="25.34" dy="-15.84">2</tspan><tspan dy="15.84">)</tspan></text>
<text transform="translate(985 735.3)" font-size="40" text-anchor="start" font-weight="bold">(d)</text>
<path d="M1650.3 751.7H1721.1" stroke="#000" stroke-width="2.8" stroke-linecap="round"/>
<text transform="translate(1730 763)" font-size="32.7" text-anchor="start" font-weight="bold">NPA</text>
<path d="M1650.3 790.3H1721.1" stroke="#ff0000" stroke-width="2.8" stroke-linecap="round"/>
<text transform="translate(1730 801.6)" font-size="32.7" text-anchor="start" font-weight="bold">IPA</text>
<path d="M1650.3 830.1H1721.1" stroke="#0000ff" stroke-width="2.8" stroke-linecap="round"/>
<text transform="translate(1730 841.4)" font-size="32.7" text-anchor="start" font-weight="bold">EG</text>
<path d="M1650.3 868.8H1721.1" stroke="#ff00ff" stroke-width="2.8" stroke-linecap="round"/>
<text transform="translate(1730 880.1)" font-size="32.7" text-anchor="start" font-weight="bold" letter-spacing="-0.8">BUT</text>
</svg>
</body>
</html>
